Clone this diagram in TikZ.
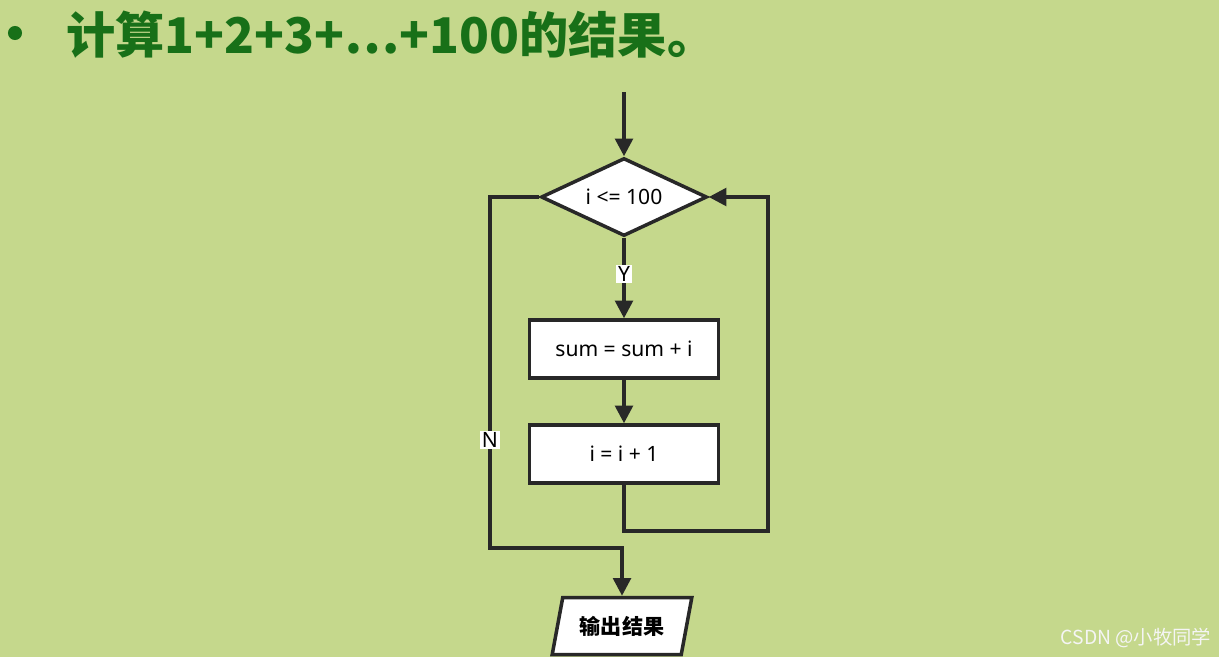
\documentclass[tikz,border=0pt]{standalone}
\usepackage{fontspec}
\setmainfont{Noto Sans}
\newfontfamily\cjk{Noto Sans CJK SC}
\usetikzlibrary{arrows.meta,shapes.geometric}
\definecolor{bg}{RGB}{197,216,140}
\definecolor{titlegreen}{RGB}{24,112,24}
\definecolor{linegray}{RGB}{40,40,40}

\begin{document}
\begin{tikzpicture}[x=0.02cm,y=-0.02cm,>={Triangle[length=10pt,width=10pt]},
  flowline/.style = {draw=linegray, line width=2pt, line join=miter},
  procbox/.style  = {draw=linegray, line width=2pt, fill=white, minimum width=3.78cm, minimum height=1.16cm, font=\fontsize{12}{14}\selectfont},
  testbox/.style  = {diamond, aspect=2.1, draw=linegray, line width=2pt, fill=white, inner sep=1pt, minimum width=3.32cm, minimum height=1.56cm, font=\fontsize{12}{14}\selectfont},
  iobox/.style    = {trapezium, trapezium left angle=75, trapezium right angle=105, trapezium stretches=true, draw=linegray, line width=2pt, fill=white, minimum width=2.8cm, minimum height=1.14cm, font=\cjk\bfseries\fontsize{12}{14}\selectfont},
  tag/.style      = {fill=white, inner sep=1pt, font=\fontsize{12}{14}\selectfont}]
  \fill[bg] (0,0) rectangle (1219,657);
  \useasboundingbox (0,0) rectangle (1219,657);
  % title
  \node[circle, fill=titlegreen, inner sep=0pt, minimum size=8pt] (dot) at (15,33) {};
  \node[anchor=west, text=titlegreen, font=\cjk\bfseries\fontsize{28}{32}\selectfont] (title) at (60,35) {计算1+2+3+…+100的结果。};
  % flowchart
  \coordinate (entry) at (624,92);
  \node[testbox]  (cond) at (624,197) {i <= 100};
  \node[procbox]  (add)  at (624,349) {sum = sum + i};
  \node[procbox]  (inc)  at (624,454) {i = i + 1};
  \node[iobox]    (out)  at (622,626) {输出结果};
  \coordinate (loopbr) at (768,531);
  \coordinate (exitbl) at (490,548);
  \draw[flowline,->] (entry) -- (cond.north);
  \draw[flowline,->] (cond.south) -- node[tag, pos=0.45] (yes) {Y} (add.north);
  \draw[flowline,->] (add.south) -- (inc.north);
  \draw[flowline,->] (inc.south) |- (loopbr) |- (cond.east);
  \draw[flowline,->] (cond.west) -| (exitbl) -| (out.north);
  \node[tag] (no) at (490,440) {N};
  % watermark
  \node[text=white!92!gray, font=\cjk\fontsize{11}{13}\selectfont] (mark) at (1136,638) {CSDN @小牧同学};
\end{tikzpicture}
\end{document}
